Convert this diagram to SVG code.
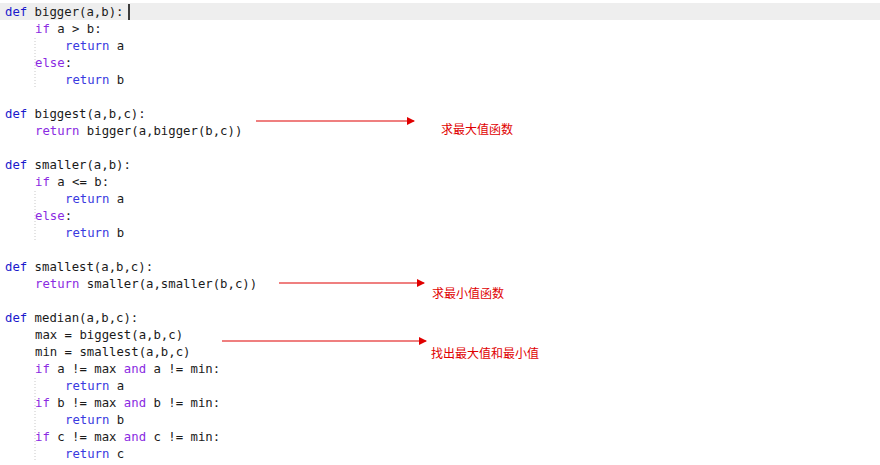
<svg xmlns="http://www.w3.org/2000/svg" width="880" height="465" viewBox="0 0 880 465">
<style>
.c{font-family:"DejaVu Sans Mono","Liberation Mono",monospace;font-size:12.3px;fill:#1a1a1a}
.d{fill:#1a1acc}.k{fill:#8a2be2}.r{fill:#3a3ae0}
.n{font-family:"Noto Sans CJK SC",sans-serif;font-size:12px;fill:#e00000}
.g{stroke:#c8c8c8;stroke-dasharray:1 2;stroke-width:1}
</style>
<defs><marker id="a" markerWidth="8" markerHeight="8" refX="7" refY="4" orient="auto" markerUnits="userSpaceOnUse"><path d="M0,0 L8,4 L0,8 z" fill="#e00000"/></marker></defs>
<rect width="880" height="465" fill="#fff"/>
<rect x="0" y="3" width="880" height="17" fill="#eeeeee"/>
<line x1="129" y1="4" x2="129" y2="20" stroke="#000" stroke-width="1.5"/>
<g id="guides">
<line class="g" x1="35" y1="38" x2="35" y2="89"/>
<line class="g" x1="35" y1="191" x2="35" y2="242"/>
<line class="g" x1="35" y1="378" x2="35" y2="462"/>
</g>
<g id="code" class="c">
<text x="5" y="16"><tspan class="d">def</tspan> bigger(a,b):</text>
<text x="35" y="33"><tspan class="k">if</tspan> a &gt; b:</text>
<text x="65" y="50"><tspan class="r">return</tspan> a</text>
<text x="35" y="67"><tspan class="k">else</tspan>:</text>
<text x="65" y="84"><tspan class="r">return</tspan> b</text>
<text x="5" y="118"><tspan class="d">def</tspan> biggest(a,b,c):</text>
<text x="35" y="135"><tspan class="k">return</tspan> bigger(a,bigger(b,c))</text>
<text x="5" y="169"><tspan class="d">def</tspan> smaller(a,b):</text>
<text x="35" y="186"><tspan class="k">if</tspan> a &lt;= b:</text>
<text x="65" y="203"><tspan class="r">return</tspan> a</text>
<text x="35" y="220"><tspan class="k">else</tspan>:</text>
<text x="65" y="237"><tspan class="r">return</tspan> b</text>
<text x="5" y="271"><tspan class="d">def</tspan> smallest(a,b,c):</text>
<text x="35" y="288"><tspan class="k">return</tspan> smaller(a,smaller(b,c))</text>
<text x="5" y="322"><tspan class="d">def</tspan> median(a,b,c):</text>
<text x="35" y="339">max = biggest(a,b,c)</text>
<text x="35" y="356">min = smallest(a,b,c)</text>
<text x="35" y="373"><tspan class="k">if</tspan> a != max <tspan class="k">and</tspan> a != min:</text>
<text x="65" y="390"><tspan class="r">return</tspan> a</text>
<text x="35" y="407"><tspan class="k">if</tspan> b != max <tspan class="k">and</tspan> b != min:</text>
<text x="65" y="424"><tspan class="r">return</tspan> b</text>
<text x="35" y="441"><tspan class="k">if</tspan> c != max <tspan class="k">and</tspan> c != min:</text>
<text x="65" y="458"><tspan class="r">return</tspan> c</text>
</g>
<g id="connectors" stroke="#e00000" stroke-width="1.2" fill="none">
<line x1="256" y1="121" x2="414" y2="121" marker-end="url(#a)"/>
<line x1="279" y1="283" x2="424" y2="283" marker-end="url(#a)"/>
<line x1="222" y1="341" x2="426" y2="341" marker-end="url(#a)"/>
</g>
<g id="note1"><text class="n" x="441" y="134">求最大值函数</text></g>
<g id="note2"><text class="n" x="432" y="298">求最小值函数</text></g>
<g id="note3"><text class="n" x="431" y="358">找出最大值和最小值</text></g>
</svg>
